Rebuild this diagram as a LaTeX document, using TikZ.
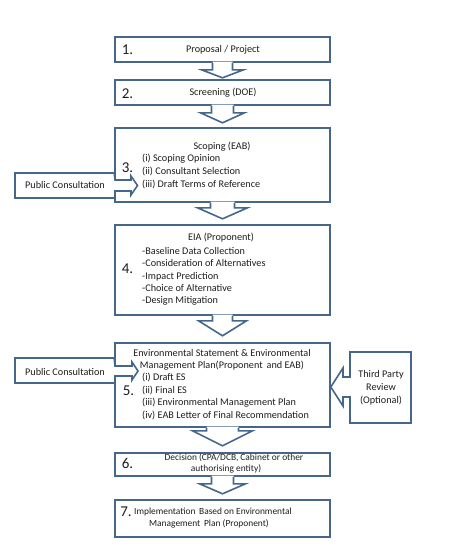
\documentclass[tikz,border=0pt]{standalone}
\usepackage{fontspec}
\setmainfont{Carlito}
\usetikzlibrary{calc}
\definecolor{bord}{HTML}{44678A}
\definecolor{txt}{HTML}{1E1E1E}
% #1 node, #2 shaft half width, #3 head half width, #4 shaft length, #5 head length
\newcommand\blockdown[5]{%
  \fill[white] ($(#1.south)+(-#2,-1.2)$) -- ++(0,#4+1.2) -- ($(#1.south)+(-#3,#4)$)
     -- ($(#1.south)+(0,#4+#5)$) -- ($(#1.south)+(#3,#4)$) -- ($(#1.south)+(#2,#4)$)
     -- ($(#1.south)+(#2,-1.2)$) -- cycle;
  \draw[conn] ($(#1.south)+(-#2,0)$) -- ($(#1.south)+(-#2,#4)$) -- ($(#1.south)+(-#3,#4)$)
     -- ($(#1.south)+(0,#4+#5)$) -- ($(#1.south)+(#3,#4)$) -- ($(#1.south)+(#2,#4)$)
     -- ($(#1.south)+(#2,0)$);}
\begin{document}
\begin{tikzpicture}[x=1pt,y=-1pt,
  box/.style={draw=bord, line width=1.6pt, fill=white, minimum width=215pt, inner sep=0pt},
  conn/.style={draw=bord, line width=1.6pt, line join=miter},
  t/.style={font=\fontsize{10.2}{12}\selectfont, text=txt, inner sep=0pt, text height=7.6pt, text depth=2.2pt},
  ts/.style={t, font=\fontsize{9.4}{11}\selectfont},
  num/.style={font=\fontsize{15}{15}\selectfont, text=txt, inner sep=0pt, text height=10.5pt, text depth=0pt}]
\useasboundingbox (0,0) rectangle (474,550);
\fill[white] (0,0) rectangle (474,550);
% main boxes
\node[box, minimum height=25pt] (b1) at (222.5,49.5) {};
\node[box, minimum height=25pt] (b2) at (222.5,92.5) {};
\node[box, minimum height=74pt] (b3) at (222.5,165) {};
\node[box, minimum height=90pt] (b4) at (222.5,270) {};
\node[box, minimum height=84pt] (b5) at (222.5,385) {};
\node[box, minimum height=23pt] (b6) at (222.5,464.5) {};
\node[box, minimum height=37pt] (b7) at (222.5,518.5) {};
% block arrows
\blockdown{b1}{10}{21}{7}{8}
\blockdown{b2}{11}{22}{7}{10}
\blockdown{b3}{12}{25}{5}{11}
\blockdown{b4}{10}{24}{5}{15}
\blockdown{b5}{16}{30}{3}{15}
\blockdown{b6}{11}{23}{7}{10}
% public consultation callouts
\coordinate (pc1NW) at (15,173);
\filldraw[conn, fill=white] (pc1NW) -- (b3.west |- 0,173) -- (115,180) -- (131,180) -- (131,176)
  -- (137.5,185.5) -- (131,195) -- (131,191) -- (115,191) -- (115,198) -- (15,198) -- cycle;
\coordinate (pc2NW) at (15,358);
\filldraw[conn, fill=white] (pc2NW) -- (b5.west |- 0,358) -- (115,366) -- (132,366) -- (132,362)
  -- (138,371) -- (132,380) -- (132,376) -- (115,376) -- (115,383) -- (15,383) -- cycle;
% third party review callout
\coordinate (tpNW) at (350,352);
\filldraw[conn, fill=white] (tpNW) -- (411,352) -- (411,423) -- (350,423) -- (350,397) -- (343,397)
  -- (343,406) -- (b5.east |- 0,387) -- (343,368) -- (343,377) -- (350,377) -- cycle;
% numbers
\node[num] (n1) at (127.5,49) {1.};
\node[num] (n2) at (127.5,93) {2.};
\node[num] (n3) at (127.5,167) {3.};
\node[num] (n4) at (127.5,268) {4.};
\node[num] (n5) at (128.5,390) {5.};
\node[num] (n6) at (127.5,463) {6.};
\node[num] (n7) at (126,511) {7.};
% texts
\node[t] (t1) at (223,50) {Proposal / Project};
\node[t] (t2) at (223,93) {Screening (DOE)};
\node[t] (t3a) at (222,147) {Scoping (EAB)};
\node[t, anchor=west] (t3b) at (142,159) {(i) Scoping Opinion};
\node[t, anchor=west] (t3c) at (142,172) {(ii) Consultant Selection};
\node[t, anchor=west] (t3d) at (142,185) {(iii) Draft Terms of Reference};
\node[t] (pc1t) at (65,186) {Public Consultation};
\node[t] (t4a) at (221,238) {EIA (Proponent)};
\node[t, anchor=west] (t4b) at (142,252) {-Baseline Data Collection};
\node[t, anchor=west] (t4c) at (142,264) {-Consideration of Alternatives};
\node[t, anchor=west] (t4d) at (142,277) {-Impact Prediction};
\node[t, anchor=west] (t4e) at (142,289) {-Choice of Alternative};
\node[t, anchor=west] (t4f) at (142,301) {-Design Mitigation};
\node[t] (t5a) at (222,354) {Environmental Statement \& Environmental};
\node[t] (t5b) at (222,366) {Management Plan(Proponent\, and EAB)};
\node[t, anchor=west] (t5c) at (142,378) {(i) Draft ES};
\node[t, anchor=west] (t5d) at (142,391) {(ii) Final ES};
\node[t, anchor=west] (t5e) at (142,403) {(iii) Environmental Management Plan};
\node[t, anchor=west] (t5f) at (142,416) {(iv) EAB Letter of Final Recommendation};
\node[t] (pc2t) at (65,373) {Public Consultation};
\node[t] (tp1) at (381,375) {Third Party};
\node[t] (tp2) at (381,388) {Review};
\node[t] (tp3) at (381,401) {(Optional)};
\node[ts] (t6a) at (234,458) {Decision (CPA/DCB, Cabinet or other};
\node[ts] (t6b) at (226,469) {authorising entity)};
\node[ts, anchor=west] (t7a) at (134,512) {Implementation\, Based on Environmental};
\node[ts] (t7b) at (209,524) {Management\, Plan (Proponent)};
\end{tikzpicture}
\end{document}
